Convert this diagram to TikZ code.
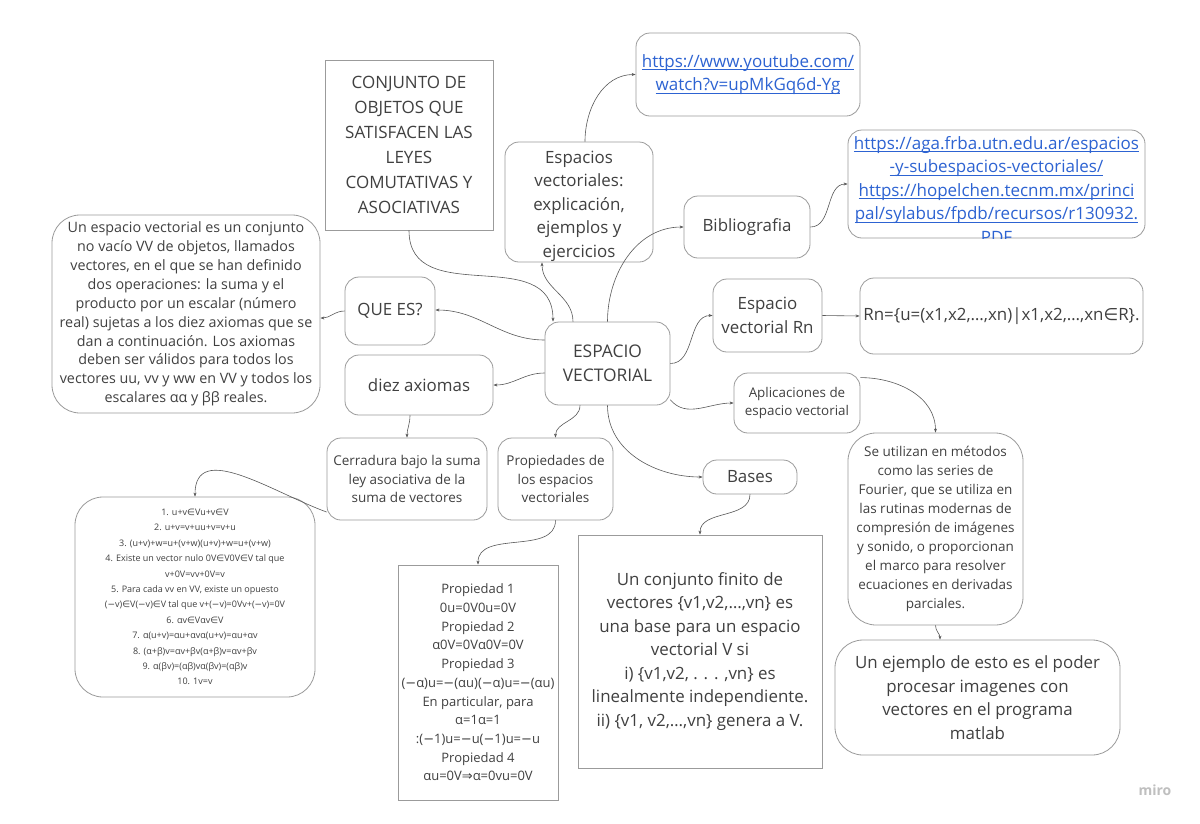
\documentclass[tikz,border=0pt]{standalone}
\usepackage{fontspec}
\setmainfont{Open Sans}
\newfontfamily\dvsans{DejaVu Sans}
\usetikzlibrary{arrows.meta}

\newcommand{\vin}{{\dvsans ∈}}
\newcommand{\vmin}{{\dvsans −}}
\newcommand{\vimp}{{\dvsans ⇒}}
\newcommand{\lnk}[1]{\setbox0\hbox{#1}\rlap{\rule[-2.8pt]{\wd0}{0.9pt}}\box0}

\definecolor{txtgray}{HTML}{404040}
\definecolor{linegray}{HTML}{9B9B9B}
\definecolor{linkblue}{HTML}{2D63D2}

\tikzset{
  box/.style={draw=linegray, line width=0.8pt, rounded corners=14pt, align=center,
    inner sep=0pt, text=txtgray},
  bigbox/.style={box, rounded corners=28pt},
  sqbox/.style={box, rounded corners=0pt},
  conn/.style={draw=black!65, line width=0.6pt, -{Stealth[length=4pt,width=3pt]}},
  fbig/.style={font=\fontsize{16.9}{23.5}\selectfont},
  flink/.style={font=\fontsize{17}{23.5}\selectfont},
  fmid/.style={font=\fontsize{13.5}{18.9}\selectfont},
  fsmall/.style={font=\fontsize{13}{18.7}\selectfont},
  ftiny/.style={font=\fontsize{9}{15.4}\selectfont}
}

\begin{document}
\begin{tikzpicture}[x=1pt, y=-1pt]
\fill[white] (0,0) rectangle (1200,823);
\useasboundingbox (0,0) rectangle (1200,823);

% centre
\node[box, fbig, font=\fontsize{17.4}{23.5}\selectfont, minimum width=125pt, minimum height=83pt] (ev) at (607.5,363.5) {ESPACIO\\VECTORIAL};

% upper branch
\node[sqbox, font=\fontsize{17}{25}\selectfont, minimum width=168pt, minimum height=170pt] (conj) at (409,145)
  {CONJUNTO DE\\OBJETOS QUE\\SATISFACEN LAS\\LEYES\\COMUTATIVAS Y\\ASOCIATIVAS};
\node[box, minimum width=148pt, minimum height=120pt] (esp) at (579,202) {};
\node[fbig, text=txtgray, align=center] (esptxt) at (579,206)
  {Espacios\\vectoriales:\\explicación,\\ejemplos y\\ejercicios};
\node[box, flink, text=linkblue, minimum width=224pt, minimum height=83pt] (yt) at (748,74.5)
  {\lnk{https://www.youtube.com/}\\\lnk{watch?v=upMkGq6d-Yg}};
\node[box, fbig, minimum width=126pt, minimum height=62pt] (bib) at (747,227) {Bibliografia};
\node[box, minimum width=297pt, minimum height=108pt] (refs) at (996.5,184) {};
\begin{scope}
  \clip[rounded corners=14pt] (refs.north west) rectangle (refs.south east);
  \node[flink, text=linkblue, align=center] (refstxt) at (996.5,191)
    {\lnk{https://aga.frba.utn.edu.ar/espacios}\\\lnk{-y-subespacios-vectoriales/}\\
     \lnk{https://hopelchen.tecnm.mx/princi}\\\lnk{pal/sylabus/fpdb/recursos/r130932.}\\\lnk{PDF}};
\end{scope}

% left branch
\node[box, fbig, minimum width=90pt, minimum height=68pt] (que) at (390,311) {QUE ES?};
\node[box, fbig, minimum width=148pt, minimum height=60pt] (diez) at (419,385) {diez axiomas};
\node[bigbox, font=\fontsize{14.3}{18.9}\selectfont, minimum width=268pt, minimum height=198pt] (def) at (186,314)
  {Un espacio vectorial es un conjunto\\no vacío VV de objetos, llamados\\vectores, en el que se han definido\\
   dos operaciones: la suma y el\\producto por un escalar (número\\real) sujetas a los diez axiomas que se\\
   dan a continuación. Los axiomas\\deben ser válidos para todos los\\vectores uu, vv y ww en VV y todos los\\
   escalares αα y ββ reales.};
\node[box, fmid, minimum width=160pt, minimum height=82pt] (cer) at (407,479)
  {Cerradura bajo la suma\\ley asociativa de la\\suma de vectores};
\node[bigbox, ftiny, minimum width=240pt, minimum height=200pt] (ax) at (195,597)
  {1. u+v\vin Vu+v\vin V\\2. u+v=v+uu+v=v+u\\3. (u+v)+w=u+(v+w)(u+v)+w=u+(v+w)\\
   4. Existe un vector nulo 0V\vin V0V\vin V tal que\\v+0V=vv+0V=v\\
   5. Para cada vv en VV, existe un opuesto\\(\vmin v)\vin V(\vmin v)\vin V tal que v+(\vmin v)=0Vv+(\vmin v)=0V\\
   6. αv\vin Vαv\vin V\\7. α(u+v)=αu+αvα(u+v)=αu+αv\\8. (α+β)v=αv+βv(α+β)v=αv+βv\\
   9. α(βv)=(αβ)vα(βv)=(αβ)v\\10. 1v=v};

% lower branch
\node[box, fmid, minimum width=115pt, minimum height=82pt] (prop) at (555.5,479)
  {Propiedades de\\los espacios\\vectoriales};
\node[sqbox, fsmall, minimum width=160pt, minimum height=235pt] (pr) at (478,682.5)
  {Propiedad 1\\0u=0V0u=0V\\Propiedad 2\\α0V=0Vα0V=0V\\Propiedad 3\\
   (\vmin α)u=\vmin(αu)(\vmin α)u=\vmin(αu)\\En particular, para\\α=1α=1\\
   :(\vmin 1)u=\vmin u(\vmin 1)u=\vmin u\\Propiedad 4\\αu=0V\vimp α=0vu=0V};
\node[box, fbig, minimum width=94pt, minimum height=34pt] (bases) at (750,477) {Bases};
\node[sqbox, fbig, minimum width=244pt, minimum height=233pt] (base) at (700,651.5)
  {Un conjunto finito de\\vectores \{v1,v2,…,vn\} es\\una base para un espacio\\vectorial V si\\
   i) \{v1,v2, . . . ,vn\} es\\linealmente independiente.\\ii) \{v1, v2,…,vn\} genera a V.};

% right branch
\node[box, fbig, minimum width=109pt, minimum height=73pt] (rn) at (767.5,315.5) {Espacio\\vectorial Rn};
\node[box, font=\fontsize{16.9}{20}\selectfont, minimum width=283pt, minimum height=76pt] (rnset) at (1001.5,316)
  {Rn=\{u=(x1,x2,…,xn)|x1,x2,…,xn\vin R\}.};
\node[box, font=\fontsize{13.4}{18.7}\selectfont, minimum width=126pt, minimum height=60pt] (apl) at (797,403)
  {Aplicaciones de\\espacio vectorial};
\node[bigbox, fmid, minimum width=175pt, minimum height=192pt] (uso) at (935.5,529)
  {Se utilizan en métodos\\como las series de\\Fourier, que se utiliza en\\las rutinas modernas de\\
   compresión de imágenes\\y sonido, o proporcionan\\el marco para resolver\\ecuaciones en derivadas\\parciales.};
\node[bigbox, fbig, minimum width=285pt, minimum height=115pt] (ej) at (977.5,697.5)
  {Un ejemplo de esto es el poder\\procesar imagenes con\\vectores en el programa\\matlab};

\node[text=black!25, font=\fontsize{14}{14}\bfseries\selectfont] (miro) at (1155,790) {miro};

% connectors
\draw[conn] ([xshift=6pt]esp.north) to[out=90, in=180] (yt.west);
\draw[conn] ([xshift=-34.5pt]ev.north) to[out=90, in=-90] ([xshift=-37pt]esp.south);
\draw[conn] (conj.south) to[out=-90, in=90, looseness=1.2] ([xshift=-54.5pt]ev.north);
\draw[conn] ([yshift=23.5pt]ev.west) to[out=180, in=0] ([yshift=1pt]que.east);
\draw[conn] ([yshift=-9.5pt]ev.west) to[out=180, in=0] (diez.east);
\draw[conn] (ev.north) to[out=90, in=180] (bib.west);
\draw[conn] (bib.east) to[out=0, in=180] (refs.west);
\draw[conn] (que.west) to[out=180, in=0] ([yshift=-4pt]def.east);
\draw[conn] (ev.east) to[out=0, in=180] (rn.west);
\draw[conn] (rn.east) -- (rnset.west);
\draw[conn] (ev.-30) to[out=-50, in=180] (apl.west);
\draw[conn] ([yshift=-5pt]apl.north east) to[out=0, in=90] (uso.north);
\draw[conn] (uso.south) to[out=-90, in=90] ([xshift=-37.5pt]ej.north);
\draw[conn] ([xshift=-27.5pt]ev.south) to[out=-90, in=90] (prop.north);
\draw[conn] (ev.south) to[out=-90, in=180] (bases.west);
\draw[conn] (bases.south) to[out=-90, in=90] (base.north);
\draw[conn] ([xshift=-9pt]diez.south) to[out=-90, in=90] (cer.north);
\draw[conn] ([yshift=-33pt]cer.west) to[out=160, in=90, looseness=1.1] (ax.north);
\draw[conn] (prop.south) to[out=-90, in=90] (pr.north);
\end{tikzpicture}
\end{document}
